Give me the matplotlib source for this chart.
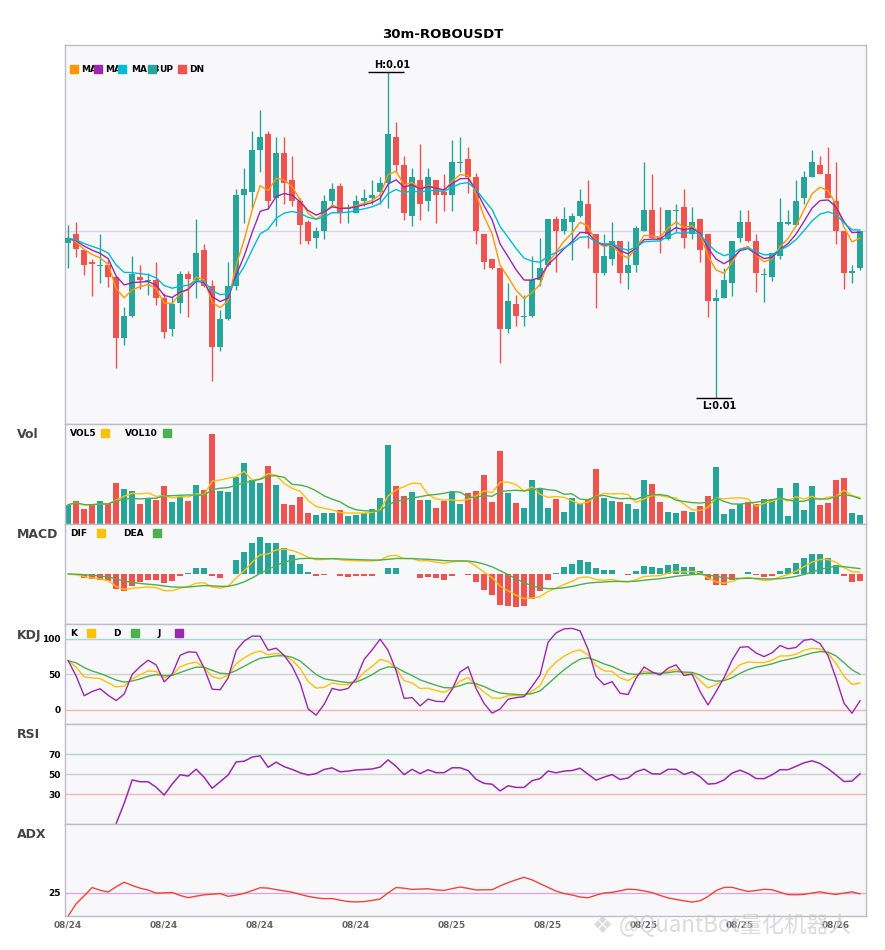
import matplotlib
matplotlib.use('Agg')
import matplotlib.pyplot as plt
from matplotlib.patches import Rectangle
import numpy as np
import pandas as pd

title = '30m-ROBOUSDT'
start_time = '2025-08-24 02:00'

open_ = np.array([
    0.011950, 0.012085, 0.011850, 0.011675, 0.011615, 0.011625, 0.011440, 0.010535, 0.010860, 0.011450,
    0.011390, 0.011400, 0.011135, 0.010670, 0.011050, 0.011485, 0.011400, 0.011850, 0.011310, 0.010400,
    0.010815, 0.011310, 0.012675, 0.012725, 0.013350, 0.013590, 0.012635, 0.013300, 0.012900, 0.012585,
    0.012275, 0.012035, 0.012135, 0.012585, 0.012810, 0.012465, 0.012410, 0.012590, 0.012630, 0.012725,
    0.012850, 0.013540, 0.013125, 0.012365, 0.012900, 0.012590, 0.012900, 0.012725, 0.012675, 0.013160,
    0.013215, 0.012950, 0.012085, 0.011715, 0.011575, 0.010670, 0.011035, 0.010850, 0.010860, 0.011400,
    0.011625, 0.012310, 0.012135, 0.012275, 0.012360, 0.012535, 0.012085, 0.011500, 0.011715, 0.011985,
    0.011500, 0.011625, 0.012135, 0.012450, 0.012050, 0.012015, 0.012440, 0.012490, 0.012085, 0.012310,
    0.012085, 0.011090, 0.011135, 0.011360, 0.012035, 0.012265, 0.011985, 0.011475, 0.011450, 0.011760,
    0.012235, 0.012225, 0.012635, 0.012950, 0.013125, 0.012990, 0.012585, 0.012135, 0.011500, 0.011585])
high = np.array([
    0.012225, 0.012265, 0.011850, 0.011710, 0.012085, 0.011700, 0.011440, 0.011000, 0.011760, 0.011625,
    0.011500, 0.011675, 0.011200, 0.011150, 0.011535, 0.011535, 0.012310, 0.011940, 0.011400, 0.010950,
    0.011675, 0.012765, 0.013085, 0.013635, 0.013950, 0.013635, 0.013540, 0.013540, 0.013260, 0.012635,
    0.012300, 0.012200, 0.012675, 0.012850, 0.012850, 0.012535, 0.012675, 0.012765, 0.012900, 0.012950,
    0.014525, 0.013775, 0.013260, 0.013085, 0.013440, 0.013085, 0.012900, 0.012990, 0.013500, 0.013540,
    0.013400, 0.013000, 0.012085, 0.011715, 0.011575, 0.011350, 0.011175, 0.011175, 0.011760, 0.012025,
    0.012310, 0.012360, 0.012490, 0.012400, 0.012765, 0.012900, 0.012085, 0.012085, 0.012265, 0.011985,
    0.011985, 0.012215, 0.013170, 0.012990, 0.012490, 0.012450, 0.012540, 0.012765, 0.012490, 0.012310,
    0.012085, 0.011260, 0.011575, 0.011985, 0.012450, 0.012450, 0.012085, 0.011575, 0.011800, 0.012635,
    0.012450, 0.012900, 0.013035, 0.013350, 0.013260, 0.013390, 0.013170, 0.012135, 0.011625, 0.012135])
low = np.array([
    0.011575, 0.011750, 0.011475, 0.011165, 0.011350, 0.011300, 0.010075, 0.010425, 0.010850, 0.011260,
    0.011175, 0.011025, 0.010525, 0.010565, 0.010900, 0.010850, 0.011125, 0.011300, 0.009890, 0.010340,
    0.010800, 0.011250, 0.012260, 0.012485, 0.013025, 0.012460, 0.012215, 0.012535, 0.012515, 0.011935,
    0.011935, 0.011885, 0.012015, 0.012515, 0.012260, 0.012260, 0.012400, 0.012510, 0.012535, 0.012535,
    0.012485, 0.013035, 0.012300, 0.012215, 0.012300, 0.012440, 0.012260, 0.012440, 0.012440, 0.013025,
    0.012710, 0.011935, 0.011565, 0.011565, 0.010160, 0.010610, 0.010715, 0.010715, 0.010850, 0.011315,
    0.011615, 0.011525, 0.012085, 0.011700, 0.012350, 0.011885, 0.010985, 0.011475, 0.011625, 0.011350,
    0.011260, 0.011525, 0.012135, 0.012035, 0.011800, 0.012000, 0.012125, 0.011885, 0.012015, 0.011665,
    0.010850, 0.009625, 0.011125, 0.011160, 0.011965, 0.011975, 0.011215, 0.011075, 0.011390, 0.011715,
    0.012225, 0.012215, 0.012535, 0.012940, 0.012990, 0.012625, 0.011935, 0.011260, 0.011350, 0.011550])
close = np.array([
    0.012025, 0.011860, 0.011625, 0.011635, 0.011625, 0.011450, 0.010535, 0.010860, 0.011485, 0.011400,
    0.011400, 0.011135, 0.010625, 0.011035, 0.011485, 0.011410, 0.011800, 0.011315, 0.010400, 0.010815,
    0.011310, 0.012675, 0.012765, 0.013350, 0.013540, 0.012590, 0.013300, 0.012860, 0.012585, 0.012225,
    0.011985, 0.012135, 0.012585, 0.012765, 0.012400, 0.012475, 0.012585, 0.012630, 0.012675, 0.012850,
    0.013590, 0.013125, 0.012410, 0.012950, 0.012540, 0.012950, 0.012675, 0.012675, 0.013170, 0.013170,
    0.012950, 0.012135, 0.011675, 0.011575, 0.010670, 0.011085, 0.010860, 0.010860, 0.011400, 0.011575,
    0.012310, 0.012135, 0.012310, 0.012360, 0.012585, 0.012085, 0.011500, 0.011760, 0.011985, 0.011500,
    0.011625, 0.012175, 0.012450, 0.012035, 0.012015, 0.012450, 0.012450, 0.012035, 0.012265, 0.011850,
    0.011085, 0.011135, 0.011400, 0.011985, 0.012265, 0.011985, 0.011500, 0.011485, 0.011800, 0.012265,
    0.012265, 0.012585, 0.012945, 0.013170, 0.012990, 0.012635, 0.012135, 0.011500, 0.011535, 0.012135])
volume = np.array([
    58, 70, 46, 58, 70, 61, 124, 106, 100, 61,
    76, 73, 115, 67, 82, 70, 118, 103, 271, 100,
    97, 142, 184, 133, 124, 175, 118, 61, 58, 82,
    34, 28, 34, 34, 43, 25, 28, 34, 46, 79,
    238, 115, 85, 97, 73, 73, 49, 70, 97, 61,
    94, 100, 148, 67, 220, 94, 64, 49, 133, 106,
    49, 76, 37, 79, 61, 76, 166, 79, 70, 67,
    61, 46, 133, 121, 67, 37, 34, 40, 37, 55,
    85, 172, 31, 46, 61, 67, 61, 76, 76, 109,
    25, 124, 43, 115, 58, 64, 133, 139, 34, 28]) * 1000

dates = pd.date_range(start_time, periods=len(close), freq='30min')

UP = '#26a69a'
DN = '#ef5350'
C_MA5 = '#ff9800'
C_MA8 = '#9c27b0'
C_MA13 = '#00bcd4'
YEL = '#ffc107'
GRN = '#4caf50'
PUR = '#9c27b0'
BG = '#f8f8fb'
EDGE = '#bdbdc6'

x = np.arange(len(close))
cs = pd.Series(close)
hs = pd.Series(high)
ls = pd.Series(low)
vs = pd.Series(volume)
colors = np.where(close >= open_, UP, DN)

# moving averages (ema 5/8/13)
ma5 = cs.ewm(span=5, adjust=False).mean()
ma8 = cs.ewm(span=8, adjust=False).mean()
ma13 = cs.ewm(span=13, adjust=False).mean()
vol5 = vs.rolling(5, min_periods=1).mean()
vol10 = vs.rolling(10, min_periods=1).mean()

# macd
dif = cs.ewm(span=12, adjust=False).mean() - cs.ewm(span=26, adjust=False).mean()
dea = dif.ewm(span=9, adjust=False).mean()
hist = 2 * (dif - dea)

# kdj
low9 = ls.rolling(9, min_periods=1).min()
high9 = hs.rolling(9, min_periods=1).max()
rsv = (cs - low9) / (high9 - low9) * 100
k = rsv.ewm(com=2, adjust=False).mean()
d = k.ewm(com=2, adjust=False).mean()
j = 3 * k - 2 * d

# rsi
delta = cs.diff()
ag = delta.clip(lower=0).ewm(com=13, adjust=True, min_periods=6).mean()
al = (-delta.clip(upper=0)).ewm(com=13, adjust=True, min_periods=6).mean()
rsi = 100 * ag / (ag + al)

# adx
up_move = hs.diff()
down_move = -ls.diff()
pdm = pd.Series(np.where((up_move > down_move) & (up_move > 0), up_move, 0.0))
mdm = pd.Series(np.where((down_move > up_move) & (down_move > 0), down_move, 0.0))
prev_c = cs.shift(1)
tr = pd.concat([hs - ls, (hs - prev_c).abs(), (ls - prev_c).abs()], axis=1).max(axis=1)
atr = tr.ewm(span=14, adjust=False).mean()
pdi = 100 * pdm.ewm(span=14, adjust=False).mean() / atr
mdi = 100 * mdm.ewm(span=14, adjust=False).mean() / atr
dx = (100 * (pdi - mdi).abs() / (pdi + mdi)).fillna(0)
adx = dx.ewm(span=14, adjust=False).mean()

W, H = 885, 950
fig = plt.figure(figsize=(W / 100, H / 100), dpi=100)


def box(top, bottom, left=65, right=866):
    return [left / W, 1 - bottom / H, (right - left) / W, (bottom - top) / H]


ax_main = fig.add_axes(box(45, 424))
ax_vol = fig.add_axes(box(424, 524), sharex=ax_main)
ax_macd = fig.add_axes(box(524, 624), sharex=ax_main)
ax_kdj = fig.add_axes(box(624, 724), sharex=ax_main)
ax_rsi = fig.add_axes(box(724, 824), sharex=ax_main)
ax_adx = fig.add_axes(box(824, 916), sharex=ax_main)
axes = [ax_main, ax_vol, ax_macd, ax_kdj, ax_rsi, ax_adx]

for a in axes:
    a.set_facecolor(BG)
    for s in a.spines.values():
        s.set_color(EDGE)
        s.set_linewidth(1)
    a.tick_params(axis='both', length=0, labelbottom=False, labelleft=False)

# candles
rng = high.max() - low.min()
body_lo = np.minimum(open_, close)
body_h = np.abs(close - open_)
min_h = rng * 0.004
body_draw = np.maximum(body_h, min_h)
ax_main.vlines(x, low, high, colors=colors, lw=1, zorder=2)
ax_main.bar(x, body_draw, bottom=body_lo - (body_draw - body_h) / 2, width=0.75,
            color=colors, zorder=3)
ax_main.plot(x, ma5, color=C_MA5, lw=1, zorder=4)
ax_main.plot(x, ma8, color=C_MA8, lw=1, zorder=4)
ax_main.plot(x, ma13, color=C_MA13, lw=1, zorder=4)
ax_main.axhline(close[-1], color='#d9d6e6', lw=1, zorder=1)
ax_main.set_ylim(low.min() - 0.079 * rng, high.max() + 0.082 * rng)

ih = int(np.argmax(high))
il = int(np.argmin(low))
ax_main.hlines(high[ih], ih - 2.5, ih + 2, color='black', lw=1, zorder=5)
ax_main.annotate(f'H:{high[ih]:.2f}', (ih + 0.5, high[ih]), xytext=(0, 1),
                 textcoords='offset points', ha='center', va='bottom',
                 fontsize=7, fontweight='bold')
ax_main.hlines(low[il], il - 2.5, il + 2, color='black', lw=1, zorder=5)
ax_main.annotate(f'L:{low[il]:.2f}', (il + 0.4, low[il]), xytext=(0, -2),
                 textcoords='offset points', ha='center', va='top',
                 fontsize=7, fontweight='bold')

# volume
ax_vol.bar(x, volume, width=0.75, color=colors)
ax_vol.plot(x, vol5, color=YEL, lw=1)
ax_vol.plot(x, vol10, color=GRN, lw=1)
ax_vol.set_ylim(0, volume.max() * 1.11)

# macd
ax_macd.bar(x, hist, width=0.75, color=np.where(hist >= 0, UP, DN))
ax_macd.plot(x, dif, color=YEL, lw=1)
ax_macd.plot(x, dea, color=GRN, lw=1)
m = max(dif.abs().max(), dea.abs().max(), hist.abs().max())
ax_macd.set_ylim(-m * 1.35, m * 1.35)

# kdj
ax_kdj.axhline(100, color='#a8d8d2', lw=1)
ax_kdj.axhline(50, color='#cfcfcf', lw=1)
ax_kdj.axhline(0, color='#f5b5b5', lw=1)
ax_kdj.plot(x, k, color=YEL, lw=1)
ax_kdj.plot(x, d, color=GRN, lw=1)
ax_kdj.plot(x, j, color=PUR, lw=1)
ax_kdj.set_ylim(-20, 121)
ax_kdj.set_yticks([0, 50, 100])

# rsi
ax_rsi.axhline(70, color='#a8d8d2', lw=1)
ax_rsi.axhline(50, color='#cfcfcf', lw=1)
ax_rsi.axhline(30, color='#f5b5b5', lw=1)
ax_rsi.plot(x, rsi, color=PUR, lw=1.1)
ax_rsi.set_ylim(0, 100)
ax_rsi.set_yticks([30, 50, 70])

# adx
ax_adx.axhline(25, color='#dba8e0', lw=1)
ax_adx.plot(x, adx, color='#f44336', lw=1)
ax_adx.set_ylim(0, 100)
ax_adx.set_yticks([25])

for a in (ax_kdj, ax_rsi, ax_adx):
    a.tick_params(axis='y', labelleft=True, pad=3, labelsize=6.5)
    for t in a.get_yticklabels():
        t.set_fontweight('bold')

ax_adx.set_xticks(x[::12])
ax_adx.set_xticklabels(dates[::12].strftime('%m/%d'))
ax_adx.tick_params(axis='x', labelbottom=True, labelsize=6.5, labelcolor='#666666', pad=3)
for t in ax_adx.get_xticklabels():
    t.set_fontweight('bold')
ax_main.set_xlim(-0.4, len(x) - 0.25)

# titles and panel names
fig.text(443 / W, 1 - 34 / H, title, ha='center', va='center', fontsize=9.5, fontweight='bold')
for name, yp in [('Vol', 434), ('MACD', 535), ('KDJ', 636), ('RSI', 735), ('ADX', 834)]:
    fig.text(17 / W, 1 - yp / H, name, ha='left', va='center', fontsize=9,
             fontweight='bold', color='#444444')


def legend_row(yp, items):
    for label, tx, col, sx in items:
        fig.text(tx / W, 1 - yp / H, label, ha='left', va='center', fontsize=6.5,
                 fontweight='bold', zorder=4)
        fig.patches.append(Rectangle((sx / W, 1 - (yp + 3.8) / H), 7.5 / W, 7.5 / H,
                                     transform=fig.transFigure, figure=fig,
                                     color=col, zorder=5))


legend_row(69, [('MA5', 81, C_MA5, 70), ('MA8', 105, C_MA8, 94),
                ('MA13', 131, C_MA13, 118), ('UP', 159, UP, 148), ('DN', 189, DN, 178)])
legend_row(433, [('VOL5', 70, YEL, 101), ('VOL10', 125, GRN, 163)])
legend_row(533, [('DIF', 70, YEL, 97), ('DEA', 123, GRN, 153)])
legend_row(633, [('K', 70, YEL, 87), ('D', 113, GRN, 131), ('J', 157, PUR, 175)])

# watermark
fig.text(602 / W, 1 - 926 / H, '❖', ha='center', va='center', fontsize=17,
         color='#cccccc', alpha=0.7, family=['DejaVu Sans'], zorder=10)
fig.text(619 / W, 1 - 926 / H, '@QuantBot量化机器人', ha='left', va='center',
         fontsize=16, color='#c8c8c8', alpha=0.65,
         family=['Noto Sans CJK SC', 'DejaVu Sans'], zorder=10)

fig.savefig('out.png', dpi=100)
